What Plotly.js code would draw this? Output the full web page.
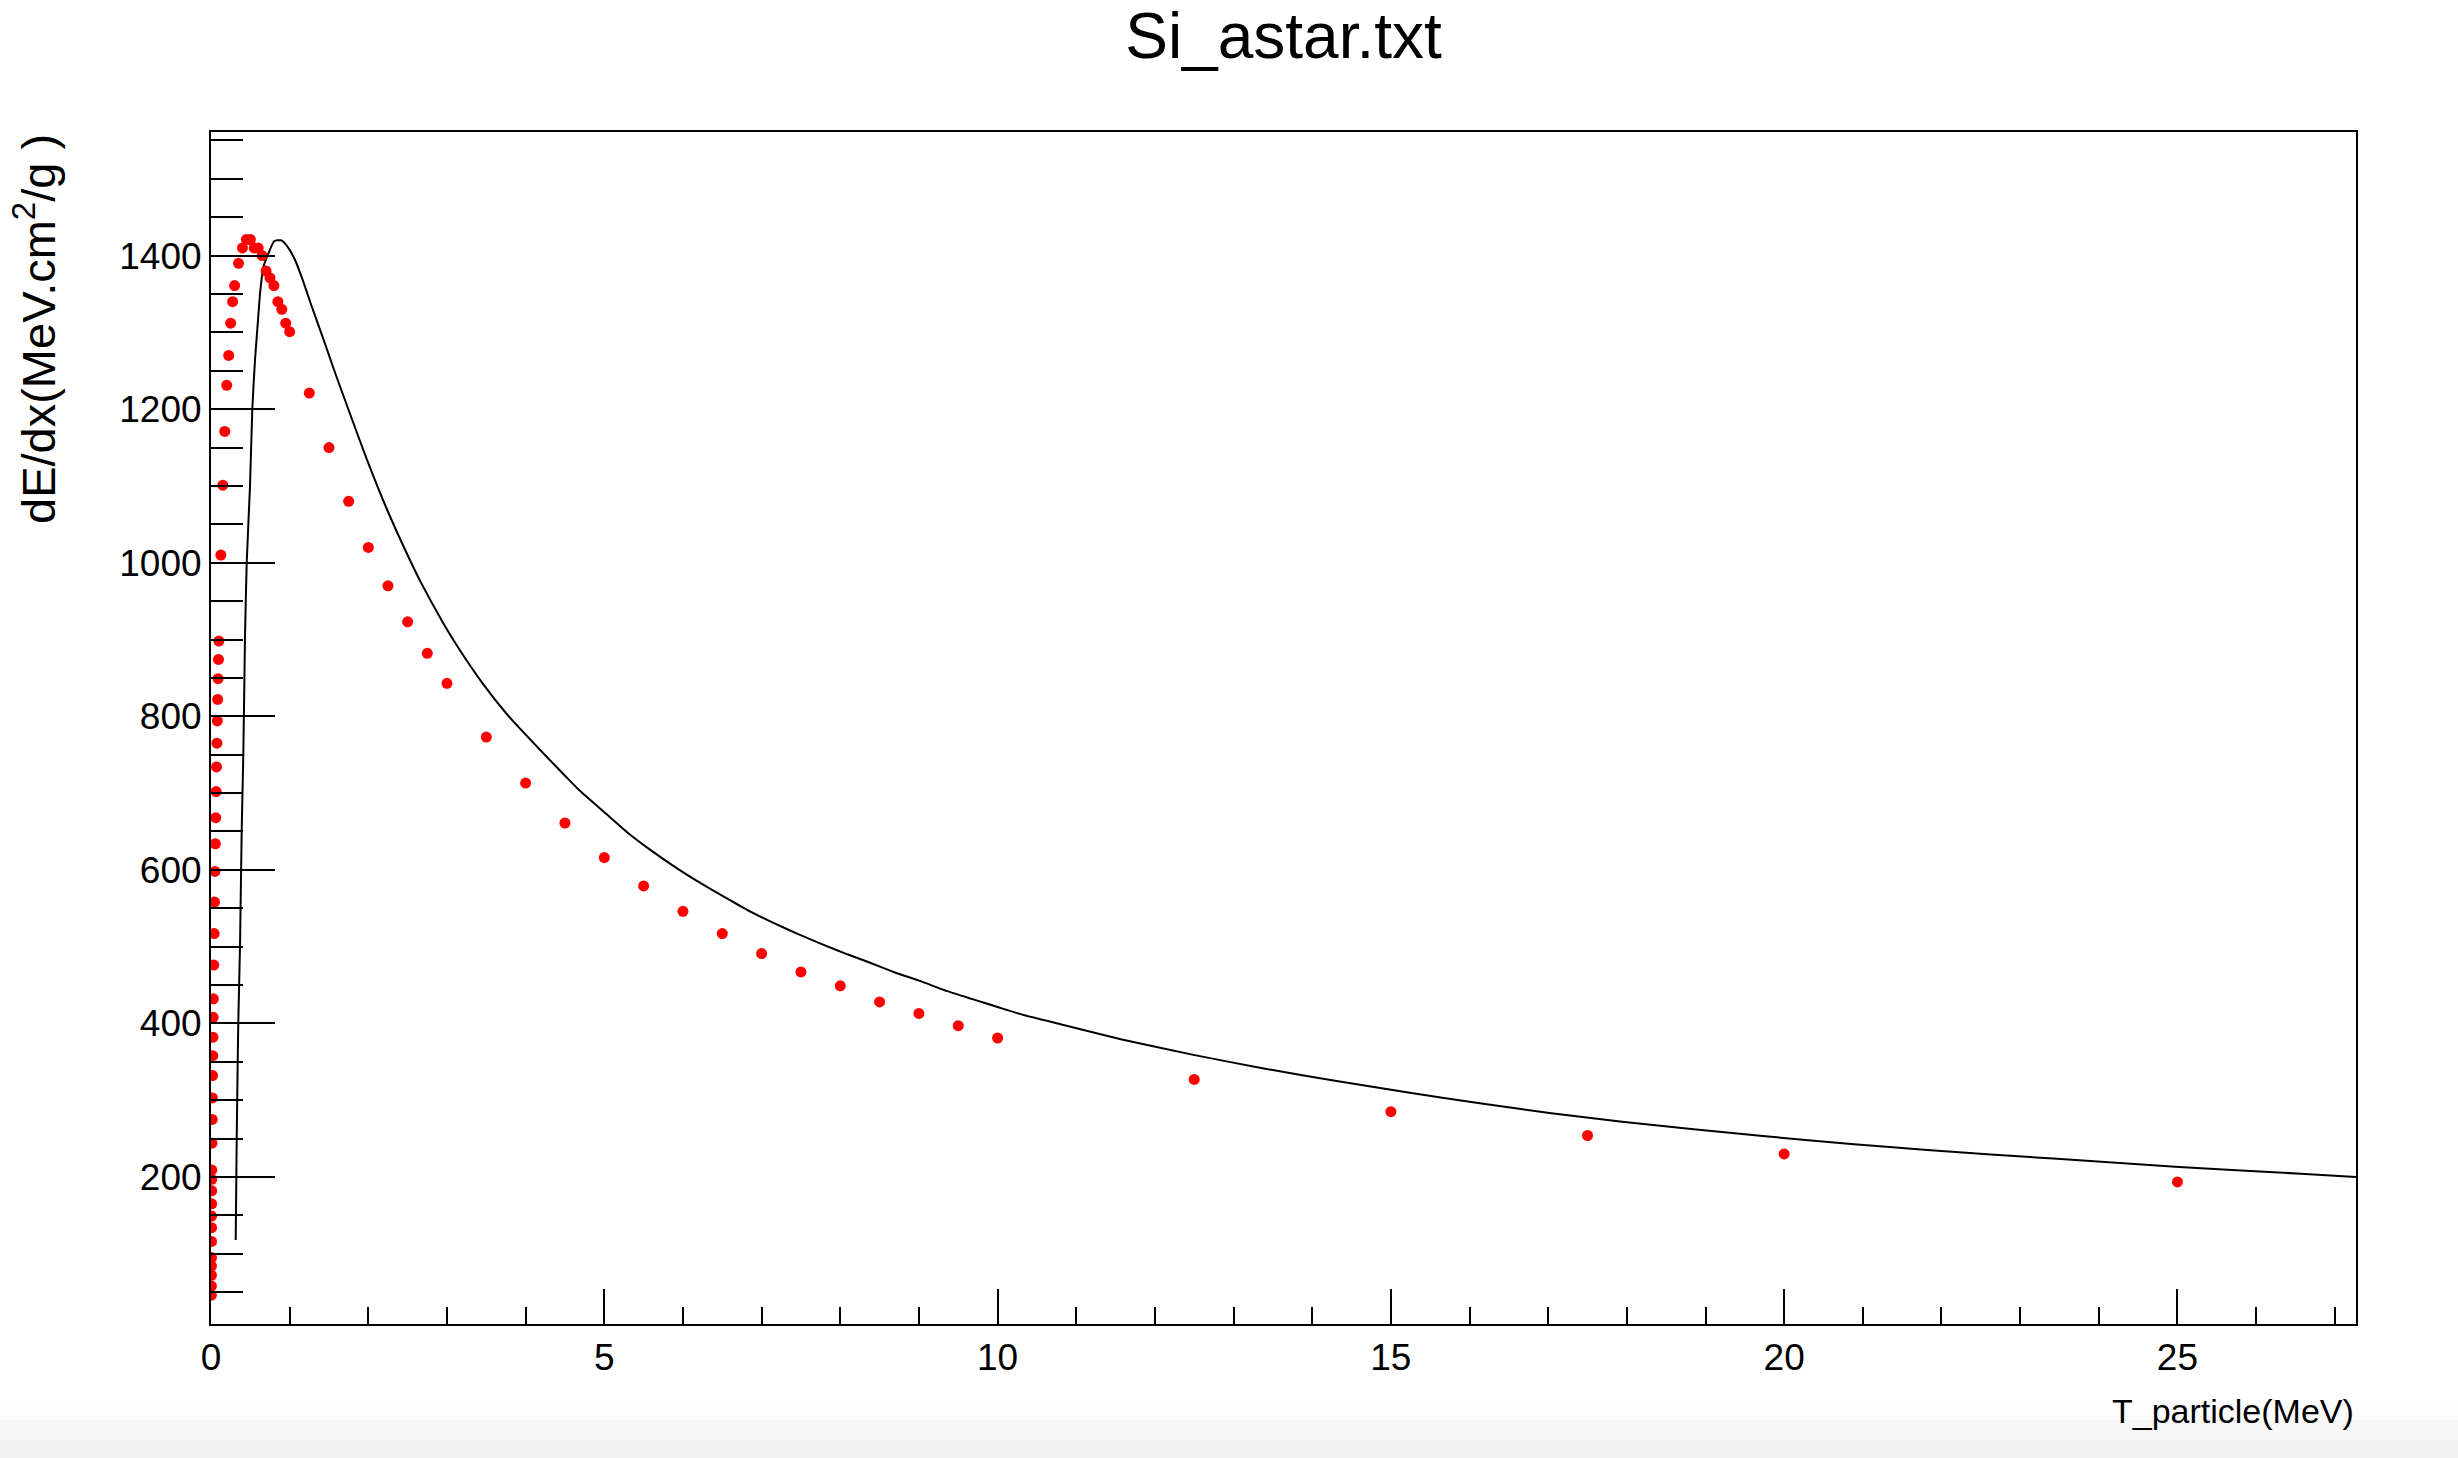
<!DOCTYPE html>
<html>
<head>
<meta charset="utf-8">
<script src="https://cdn.plot.ly/plotly-3.0.1.min.js"></script>
<style>
  html, body { margin: 0; padding: 0; background: #fff; }
  #myDiv { width: 2458px; height: 1458px; }
</style>
</head>
<body>
<div id="myDiv"></div>
<script>
// ASTAR table points (red markers), T in MeV, dE/dx in MeV cm2/g
var astarT = [
    0.0045, 0.005, 0.0055, 0.006, 0.0065, 0.007, 0.0075, 0.008, 0.0085, 0.009, 0.0095,
    0.01, 0.0125, 0.015, 0.0175, 0.02, 0.0225, 0.025, 0.0275, 0.03, 0.035, 0.04, 0.045,
    0.05, 0.055, 0.06, 0.065, 0.07, 0.075, 0.08, 0.085, 0.09, 0.095,
    0.1, 0.125, 0.15, 0.175, 0.2, 0.225, 0.25, 0.275, 0.3, 0.35, 0.4, 0.45,
    0.5, 0.55, 0.6, 0.65, 0.7, 0.75, 0.8, 0.85, 0.9, 0.95,
    1.0, 1.25, 1.5, 1.75, 2.0, 2.25, 2.5, 2.75, 3.0, 3.5, 4.0, 4.5,
    5.0, 5.5, 6.0, 6.5, 7.0, 7.5, 8.0, 8.5, 9.0, 9.5,
    10, 12.5, 15, 17.5, 20, 25
];
var astarDedx = [
    46, 58, 72, 84, 95, 116, 134, 149, 165, 182, 197,
    209, 244, 275, 303, 332, 358, 382, 408, 432, 476, 517, 558,
    598, 634, 668, 702, 734, 765, 794, 822, 849, 874,
    898, 1010, 1101, 1171, 1231, 1270, 1312, 1340, 1361, 1390, 1410, 1421,
    1421, 1410, 1410, 1400, 1380, 1371, 1361, 1340, 1330, 1312,
    1301, 1221, 1150, 1080, 1020, 970, 923, 882, 843, 773, 713, 661,
    616, 579, 546, 517, 491, 467, 449, 428, 413, 397,
    381, 327, 285, 254, 230, 193.5
];

// black curve
var curveT = [
    0.314, 0.327, 0.347, 0.369, 0.39, 0.411, 0.432, 0.454, 0.496, 0.525,
    0.56, 0.594, 0.623, 0.666, 0.73, 0.805, 0.89, 0.963, 1.07, 1.174,
    1.28, 1.43, 1.555, 1.66, 1.81, 1.98, 2.235, 2.49, 2.66, 2.955,
    3.146, 3.46, 3.76, 4.02, 4.27, 4.525, 4.69, 4.99, 5.29, 5.585,
    5.925, 6.22, 6.52, 6.815, 7.15, 7.45, 7.75, 8.09, 8.38, 8.68,
    9.02, 9.36, 9.7, 10.04, 10.33, 10.8, 11.58, 12.49, 13.4, 14.31,
    15.22, 16.13, 17.04, 17.94, 18.85, 19.76, 20.85, 21.82, 23.42, 25.02,
    26.62, 27.27
];
var curveDedx = [
    118, 251, 402, 501, 651, 751, 902, 1000, 1100, 1200,
    1265, 1311, 1350, 1385, 1403, 1419, 1420, 1413, 1394, 1366,
    1334, 1291, 1254, 1224, 1182, 1135, 1070, 1012, 976, 921,
    889, 842, 803, 774, 747, 720, 703, 676, 649, 626,
    602, 583, 565, 548, 531, 517, 504, 490, 479, 467,
    455, 442, 431, 420, 411, 399, 379, 359, 341, 325,
    310, 296, 283, 272, 262, 253, 243, 235, 224, 213,
    204, 200
];

var font = '"Liberation Sans", Arial, Helvetica, sans-serif';

var curve = {
    x: curveT,
    y: curveDedx,
    type: 'scatter',
    mode: 'lines',
    line: { color: 'black', width: 2, shape: 'spline', smoothing: 0.5 },
    hoverinfo: 'skip'
};

var points = {
    x: astarT,
    y: astarDedx,
    type: 'scatter',
    mode: 'markers',
    marker: { color: '#ff0000', size: 11 }
};

var data = [curve, points];

var W = 2458, H = 1458;
var mL = 211, mR = 102, mT = 132, mB = 134;
var pw = W - mL - mR, ph = H - mT - mB;

function px2paperY(py) { return (H - mB - py) / ph; }

var layout = {
    width: W,
    height: H,
    paper_bgcolor: 'white',
    plot_bgcolor: 'white',
    showlegend: false,
    margin: { l: mL, r: mR, t: mT, b: mB, pad: 0 },
    font: { family: font, color: 'black' },
    title: {
        text: 'Si_astar.txt',
        font: { family: font, size: 64, color: 'black' },
        x: 0.5, xref: 'paper', xanchor: 'center',
        y: 1 - 36 / H, yref: 'container', yanchor: 'middle'
    },
    xaxis: {
        range: [0, 27.27],
        showgrid: false,
        zeroline: false,
        showline: true,
        mirror: true,
        linecolor: 'black',
        linewidth: 2,
        ticks: 'inside',
        ticklen: 35,
        tickwidth: 2,
        tickcolor: 'black',
        dtick: 5,
        tick0: 0,
        tickfont: { family: font, size: 37, color: 'black' },
        minor: { dtick: 1, ticks: 'inside', ticklen: 17, tickwidth: 2, tickcolor: 'black', showgrid: false }
    },
    yaxis: {
        range: [8.5, 1561],
        showgrid: false,
        zeroline: false,
        showline: true,
        mirror: true,
        linecolor: 'black',
        linewidth: 2,
        ticks: 'inside',
        ticklen: 64,
        tickwidth: 2,
        tickcolor: 'black',
        dtick: 200,
        tick0: 0,
        tickfont: { family: font, size: 37, color: 'black' },
        minor: { dtick: 50, ticks: 'inside', ticklen: 32, tickwidth: 2, tickcolor: 'black', showgrid: false }
    },
    annotations: [
        {
            text: 'T_particle(MeV)',
            xref: 'paper', yref: 'paper',
            x: 1, xanchor: 'right',
            y: px2paperY(1411), yanchor: 'middle',
            showarrow: false,
            font: { family: font, size: 34, color: 'black' }
        },
        {
            text: 'dE/dx(MeV.cm<sup>2</sup>/g )',
            xref: 'paper', yref: 'paper',
            x: (35 - mL) / pw, xanchor: 'center',
            y: 1, yanchor: 'top',
            textangle: -90,
            showarrow: false,
            font: { family: font, size: 47, color: 'black' }
        }
    ],
    shapes: [
        { type: 'rect', xref: 'paper', yref: 'paper', x0: -mL / pw, x1: (W - mL) / pw,
          y0: px2paperY(1420), y1: px2paperY(1400), fillcolor: '#fcfcfc', line: { width: 0 }, layer: 'below' },
        { type: 'rect', xref: 'paper', yref: 'paper', x0: -mL / pw, x1: (W - mL) / pw,
          y0: px2paperY(1440), y1: px2paperY(1420), fillcolor: '#f7f7f7', line: { width: 0 }, layer: 'below' },
        { type: 'rect', xref: 'paper', yref: 'paper', x0: -mL / pw, x1: (W - mL) / pw,
          y0: px2paperY(1458), y1: px2paperY(1440), fillcolor: '#f1f1f1', line: { width: 0 }, layer: 'below' }
    ]
};

Plotly.newPlot('myDiv', data, layout, { displayModeBar: false, staticPlot: true });
</script>
</body>
</html>
